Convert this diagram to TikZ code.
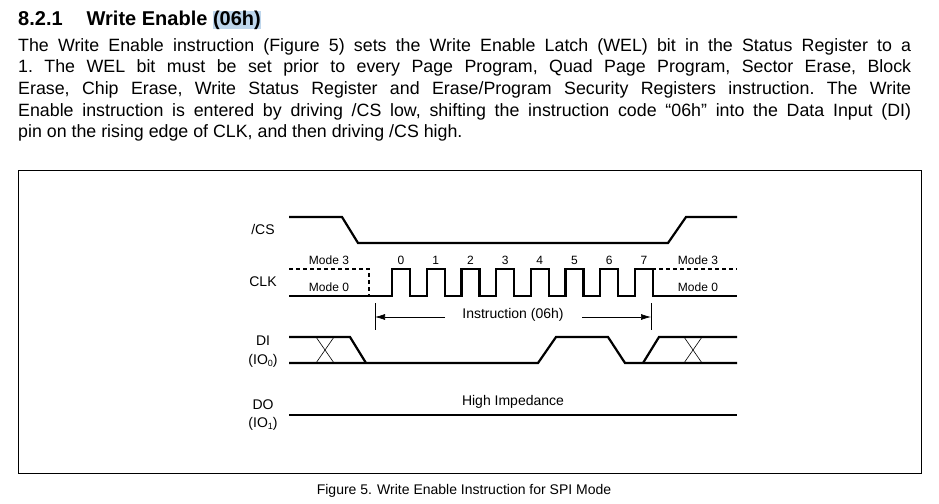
\documentclass[tikz,border=0pt]{standalone}
\usepackage{fontspec}
\setmainfont{Liberation Sans}
\usetikzlibrary{arrows.meta}
\newcommand{\subtx}[1]{\raisebox{-0.3ex}{\fontsize{9}{10}\selectfont #1}}
\begin{document}
\begin{tikzpicture}[x=1pt,y=-1pt,
  sig/.style={line width=2.2pt},
  dsig/.style={line width=2pt,dash pattern=on 4pt off 3pt},
  thin/.style={line width=0.6pt},
  lab/.style={font=\fontsize{14}{16}\selectfont},
  sm/.style={font=\fontsize{12}{14}\selectfont,inner sep=1pt}]
\useasboundingbox (0,0) rectangle (939,503);
\fill[white] (0,0) rectangle (939,503);
% heading
\node[anchor=west,inner sep=0pt,font=\fontsize{20}{22}\selectfont\bfseries] (hd) at (18,20)
 {8.2.1\hspace{24pt}Write Enable \setlength{\fboxsep}{0pt}\colorbox[RGB]{190,214,236}{(06h)}};
\node[anchor=north west,inner sep=0pt,text width=893pt,align=justify,
  font=\fontsize{17.8}{21.7}\selectfont\frenchspacing] (para) at (18,38)
 {The Write Enable instruction (Figure 5) sets the Write Enable Latch (WEL) bit in the Status Register to a\linebreak
 1. The WEL bit must be set prior to every Page Program, Quad Page Program, Sector Erase, Block\linebreak
 Erase, Chip Erase, Write Status Register and Erase/Program Security Registers instruction. The Write\linebreak
 Enable instruction is entered by driving /CS low, shifting the instruction code “06h” into the Data Input (DI)\linebreak
 pin on the rising edge of CLK, and then driving /CS high.};
% frame
\draw[line width=0.7pt] (18,170) rectangle (921,473);
\node[lab] (caption) at (464,491) {Figure 5. Write Enable Instruction for SPI Mode};
% labels
\node[lab] (lcs) at (263,229) {/CS};
\node[lab] (lclk) at (263,282) {CLK};
\node[lab] (ldi) at (263,341) {DI};
\node[lab] (ldi2) at (263,361) {(IO\subtx{0})};
\node[lab] (ldo) at (263,405) {DO};
\node[lab] (ldo2) at (263,424) {(IO\subtx{1})};
% CS
\draw[sig] (289,217) -- (342,217) -- (358,243) -- (668,243) -- (686,217) -- (737,217);
% CLK
\draw[dsig] (289,269) -- (369,269) -- (369,296);
\draw[dsig] (652,269) -- (737,269);
\draw[sig] (289,296) -- (392,296)
  \foreach \i in {0,...,7} { -- ({392+34.7*\i},296) -- ({392+34.7*\i},269) -- ({410+34.7*\i},269) -- ({410+34.7*\i},296) }
  -- (737,296);
\foreach \i in {0,...,7} \node[sm] (n\i) at ({401+34.7*\i},260) {\i};
\node[sm] (m3l) at (329,260) {Mode 3};
\node[sm] (m0l) at (329,287) {Mode 0};
\node[sm] (m3r) at (698,260) {Mode 3};
\node[sm] (m0r) at (698,287) {Mode 0};
% instruction arrow
\coordinate (ta) at (375,317); \coordinate (tb) at (651,317);
\coordinate (sa) at (445,317); \coordinate (sb) at (582,317);
\draw[thin] (375,303) -- (375,330);
\draw[thin] (651,303) -- (651,330);
\node[lab] (instr) at (513,315) {Instruction (06h)};
\draw[thin,-{Latex[length=10pt,width=6pt]}] (sa) -- (ta);
\draw[thin,-{Latex[length=10pt,width=6pt]}] (sb) -- (tb);
% DI
\draw[sig] (289,337) -- (350,337) -- (366,363);
\draw[sig] (289,363) -- (538,363) -- (556,337) -- (608,337) -- (625,363) -- (737,363);
\draw[sig] (643,363) -- (659,337) -- (737,337);
\draw[thin] (316,337) -- (334,363) (316,363) -- (334,337);
\draw[thin] (684,337) -- (702,363) (684,363) -- (702,337);
% DO
\draw[sig] (289,415) -- (737,415);
\node[lab] (hiz) at (513,402) {High Impedance};
\end{tikzpicture}
\end{document}
